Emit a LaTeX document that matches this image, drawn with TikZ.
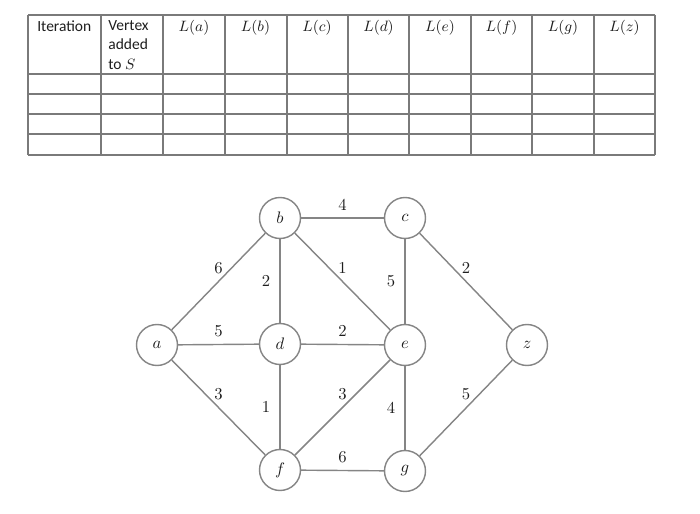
\documentclass[tikz,border=0pt]{standalone}
\usepackage{fontspec}
\newfontfamily\tabfont{Carlito}
\usetikzlibrary{positioning}
\definecolor{GridGray}{HTML}{7A7A7A}
\definecolor{EdgeGray}{HTML}{858585}
\definecolor{InkBlack}{HTML}{1E1E1E}
\tikzset{
  vertex/.style={circle, draw=EdgeGray, line width=0.85pt, fill=white, minimum size=24.6pt, inner sep=0pt, text=InkBlack, font=\normalsize},
  edge/.style={draw=EdgeGray, line width=0.85pt},
  weight/.style={inner sep=4.2pt, text=InkBlack, font=\normalsize},
  headtext/.style={anchor=north west, inner sep=0pt, align=left, text=InkBlack, font=\tabfont\fontsize{9.3}{11.8}\selectfont},
  headmath/.style={anchor=base, inner sep=0pt, text=InkBlack, font=\small},
  gridline/.style={draw=GridGray, line width=1.1pt}
}

\begin{document}
\begin{tikzpicture}[x=0.6pt, y=-0.6pt]
\useasboundingbox (0,0) rectangle (700,514);
% table
\foreach \y in {15,74,94,114,134,155}
  \draw[gridline] (28,\y) -- (655,\y);
\foreach \x in {28,101,163,225,287,348,409,471,532,594,655}
  \draw[gridline] (\x,15) -- (\x,155);
\node[headtext] (iter) at (37,20) {Iteration};
\node[headtext] (added) at (108,20) {Vertex\\added\\to $S$};
\foreach \v [count=\i] in {a,b,c,d,e,f,g,z}
  \node[headmath] (L\v) at ({194+61.5*(\i-1)},31.5) {$L(\v)$};
% graph
\node[vertex] (a) at (157,345) {$a$};
\node[vertex] (b) at (280,218) {$b$};
\node[vertex] (c) at (405,218) {$c$};
\node[vertex] (d) at (280,344) {$d$};
\node[vertex] (e) at (405,345) {$e$};
\node[vertex] (f) at (280,470) {$f$};
\node[vertex] (g) at (405,471) {$g$};
\node[vertex] (z) at (527,345) {$z$};
\draw[edge] (a) -- node[weight, above] {6} (b);
\draw[edge] (a) -- node[weight, above] {5} (d);
\draw[edge] (a) -- node[weight, above] {3} (f);
\draw[edge] (b) -- node[weight, above] {4} (c);
\draw[edge] (b) -- node[weight, left=1.2pt] {2} (d);
\draw[edge] (b) -- node[weight, above] {1} (e);
\draw[edge] (c) -- node[weight, left=1.2pt] {5} (e);
\draw[edge] (c) -- node[weight, above] {2} (z);
\draw[edge] (d) -- node[weight, above] {2} (e);
\draw[edge] (d) -- node[weight, left=1.2pt] {1} (f);
\draw[edge] (e) -- node[weight, above] {3} (f);
\draw[edge] (e) -- node[weight, left=1.2pt] {4} (g);
\draw[edge] (f) -- node[weight, above] {6} (g);
\draw[edge] (g) -- node[weight, above] {5} (z);
\end{tikzpicture}
\end{document}
